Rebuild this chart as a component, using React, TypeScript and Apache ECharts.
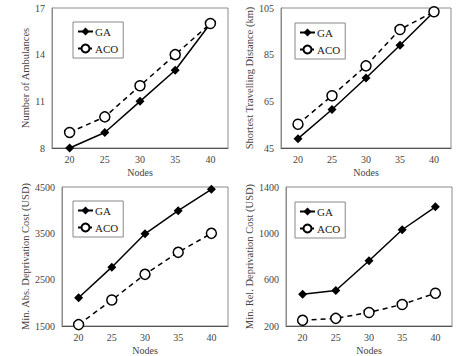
import React, { useEffect, useRef } from "react";
import * as echarts from "echarts";

const nodes = ["20", "25", "30", "35", "40"];

const gaAmbulances = [8, 9, 11, 13, 16];
const acoAmbulances = [9, 10, 12, 14, 16];

const gaDistance = [49, 61.5, 75, 89, 103.4];
const acoDistance = [55.2, 67.4, 80.2, 95.8, 103.4];

const gaAbsCost = [2110, 2770, 3490, 3990, 4450];
const acoAbsCost = [1530, 2060, 2615, 3090, 3500];

const gaRelCost = [474, 506, 763, 1031, 1229];
const acoRelCost = [249, 266, 317, 386, 483];

const yNames = [
  "Number of Ambulances",
  "Shortest Travelling Distance (km)",
  "Min. Abs. Deprivation Cost (USD)",
  "Min. Rel. Deprivation Cost (USD)",
];
const yRanges = [
  [8, 17, 3],
  [45, 105, 20],
  [1500, 4500, 1000],
  [200, 1400, 400],
];

const FONT = "Liberation Serif";

export default function App() {
  const ref = useRef<HTMLDivElement>(null);
  useEffect(() => {
    if (!ref.current) return;
    const chart = echarts.init(ref.current, null, { renderer: "svg" });
    const grids = [
      { left: 52, top: 8, width: 176, height: 140 },
      { left: 281, top: 8, width: 170, height: 140 },
      { left: 62, top: 187, width: 166, height: 140 },
      { left: 286, top: 187, width: 166, height: 140 },
    ];
    const nameGaps = [17, 24, 30, 29];
    const legendPos = [
      { left: 73, top: 22 },
      { left: 295, top: 23 },
      { left: 73, top: 201 },
      { left: 295, top: 202 },
    ];
    const seriesData = [
      [gaAmbulances, acoAmbulances],
      [gaDistance, acoDistance],
      [gaAbsCost, acoAbsCost],
      [gaRelCost, acoRelCost],
    ];
    const series: any[] = [];
    seriesData.forEach((pair, i) => {
      series.push({
        name: "GA",
        type: "line",
        xAxisIndex: i,
        yAxisIndex: i,
        data: pair[0],
        symbol: "diamond",
        symbolSize: 9,
        itemStyle: { color: "#000" },
        lineStyle: { color: "#000", width: 1.5, type: "solid" },
      });
      series.push({
        name: "ACO",
        type: "line",
        xAxisIndex: i,
        yAxisIndex: i,
        data: pair[1],
        symbol: "circle",
        symbolSize: 10,
        showAllSymbol: true,
        itemStyle: { color: "#fff", borderColor: "#000", borderWidth: 1.5 },
        lineStyle: { color: "#000", width: 1.5, type: [5, 4] },
      });
    });
    chart.setOption({
      animation: false,
      backgroundColor: "#fff",
      textStyle: { fontFamily: FONT },
      grid: grids.map((g) => ({
        ...g,
        show: true,
        borderColor: "#8c8c8c",
        borderWidth: 1,
        backgroundColor: "transparent",
      })),
      legend: legendPos.map((p) => ({
        ...p,
        orient: "vertical",
        data: ["GA", "ACO"],
        itemWidth: 15,
        itemHeight: 10,
        itemGap: 6,
        padding: [4, 5, 4, 4],
        borderColor: "#888",
        borderWidth: 1,
        textStyle: { fontFamily: FONT, fontSize: 11, color: "#222", padding: [0, 0, 0, -3] },
        selectedMode: false,
      })),
      xAxis: grids.map((_, i) => ({
        type: "category",
        gridIndex: i,
        data: nodes,
        boundaryGap: true,
        name: "Nodes",
        nameLocation: "middle",
        nameGap: 19,
        nameTextStyle: { fontFamily: FONT, fontSize: 10, color: "#444" },
        axisLine: { lineStyle: { color: "#555", width: 1 } },
        axisTick: { show: false },
        axisLabel: { fontFamily: FONT, fontSize: 10, color: "#444", margin: 6 },
        splitLine: { show: false },
      })),
      yAxis: grids.map((_, i) => ({
        type: "value",
        gridIndex: i,
        min: yRanges[i][0],
        max: yRanges[i][1],
        interval: yRanges[i][2],
        name: yNames[i],
        nameLocation: "middle",
        nameGap: nameGaps[i],
        nameTextStyle: { fontFamily: FONT, fontSize: 10.5, color: "#444" },
        axisLine: { show: true, lineStyle: { color: "#8c8c8c", width: 1 } },
        axisTick: { show: false },
        axisLabel: {
          fontFamily: FONT,
          fontSize: 10,
          color: "#444",
          margin: 7,
          formatter: (v: number) => String(v),
        },
        splitLine: { show: false },
      })),
      series,
    });
    return () => chart.dispose();
  }, []);
  return (
    <div
      ref={ref}
      style={{ position: "fixed", left: 0, top: 0, width: 474, height: 356 }}
    />
  );
}
